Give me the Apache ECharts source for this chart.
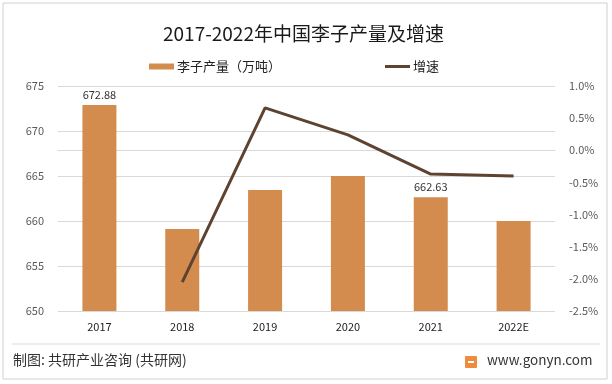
<!DOCTYPE html>
<html><head><meta charset="utf-8">
<script src="https://cdn.jsdelivr.net/npm/echarts@6/dist/echarts.min.js"></script>
<style>html,body{margin:0;padding:0;background:#fff}#c{width:612px;height:384px}</style>
</head><body><div id="c"></div>
<script>
const categories = ['2017','2018','2019','2020','2021','2022E'];
const production = [672.88, 659.1, 663.44, 665.0, 662.63, 660.0];
const growth = [null, -2.05, 0.66, 0.24, -0.37, -0.40];
const leftTicks = [650, 675, 5];
const rightTicks = [-2.5, 1.0, 0.5];

const chart = echarts.init(document.getElementById('c'));
const font = '"Noto Sans CJK SC", "Microsoft YaHei", sans-serif';
chart.setOption({
  animation: false,
  backgroundColor: '#fff',
  title: {
    text: '2017-2022年中国李子产量及增速',
    left: 163, top: 24, padding: 0,
    textStyle: {fontFamily: font, fontSize: 19, fontWeight: 'normal', color: '#1a1a1a'}
  },
  legend: {
    top: 60, left: 149, padding: 0, itemGap: 104, itemWidth: 25, itemHeight: 6,
    textStyle: {fontFamily: font, fontSize: 13, color: '#222', padding: [0,0,0,-2]},
    data: [
      {name: '李子产量（万吨）', icon: 'rect'},
      {name: '增速', icon: 'path://M0,0 L25,0 L25,3 L0,3 Z', itemStyle:{color:'#5E4330'}}
    ]
  },
  grid: {left: 58, right: 57, top: 86, bottom: 73},
  xAxis: {
    type: 'category', data: categories,
    axisLine: {lineStyle: {color: '#d9d9d9'}},
    axisTick: {show: false},
    axisLabel: {color: '#222', fontSize: 11, margin: 10, fontFamily: font}
  },
  yAxis: [
    {type: 'value', min: leftTicks[0], max: leftTicks[1], interval: leftTicks[2],
     axisLine: {show: false}, axisTick: {show: false},
     axisLabel: {color: '#595959', fontSize: 11, margin: 14, fontFamily: font},
     splitLine: {lineStyle: {color: '#d9d9d9'}}},
    {type: 'value', min: rightTicks[0], max: rightTicks[1], interval: rightTicks[2],
     axisLine: {show: false}, axisTick: {show: false},
     axisLabel: {color: '#595959', fontSize: 11, margin: 14, fontFamily: font,
       formatter: v => v.toFixed(1) + '%'},
     splitLine: {show: false}}
  ],
  series: [
    {name: '李子产量（万吨）', type: 'bar', data: production, barWidth: 34,
     itemStyle: {color: '#D38C4E'},
     label: {show: true, position: 'top', fontSize: 11, color: '#333', fontFamily: font,
       formatter: p => (p.dataIndex === 0 || p.dataIndex === 4) ? p.value.toFixed(2) : ''}},
    {name: '增速', type: 'line', yAxisIndex: 1, data: growth, symbol: 'none',
     lineStyle: {color: '#5E4330', width: 3}, itemStyle: {color: '#5E4330'}}
  ],
  graphic: [
    {type: 'rect', shape: {x: 3, y: 3, width: 604, height: 376},
     style: {fill: 'none', stroke: '#d0d0d0', lineWidth: 1}},
    {type: 'line', shape: {x1: 12, y1: 344, x2: 600, y2: 344},
     style: {stroke: '#d9d9d9', lineWidth: 1}},
    {type: 'text', left: 13, top: 353,
     style: {text: '制图: 共研产业咨询 (共研网)', fontFamily: font, fontSize: 14, fill: '#333'}},
    {type: 'rect', shape: {x: 465, y: 356, width: 12, height: 12, r: 1},
     style: {fill: '#F08A3C'}},
    {type: 'rect', shape: {x: 468, y: 361, width: 6, height: 2},
     style: {fill: '#fff'}},
    {type: 'text', left: 487, top: 353,
     style: {text: 'www.gonyn.com', fontFamily: font, fontSize: 13.5, fill: '#333'}}
  ]
});
</script></body></html>
